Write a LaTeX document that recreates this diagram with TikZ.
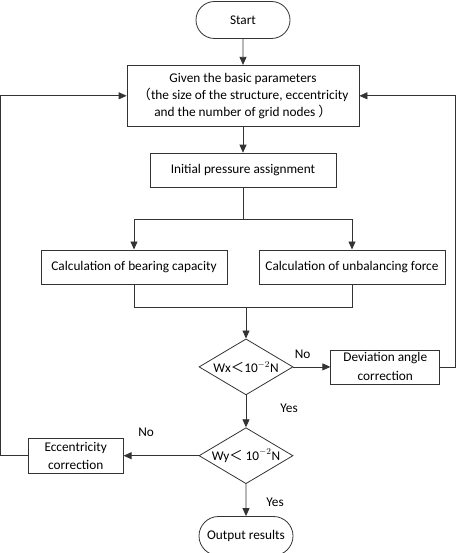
\documentclass[tikz,border=0pt]{standalone}
\usepackage{fontspec}
\setmainfont{Carlito}
\newfontfamily\cjk{Noto Sans CJK SC}
\usetikzlibrary{positioning, arrows.meta, calc, shapes.geometric, shapes.misc}
\tikzset{arr/.style={-{Triangle[length=8pt, width=7pt]}}}

\begin{document}
\begin{tikzpicture}[
      x=1pt, y=1pt,
      draw=black!80, line width=0.8pt,
      node distance=26pt,
      every node/.style={align=center, font=\fontsize{13.3}{17}\selectfont, inner sep=0pt},
      process/.style={draw, rectangle, minimum width=186pt, minimum height=34pt},
      terminal/.style={draw, rounded rectangle, minimum width=94pt, minimum height=37pt},
      decision/.style={draw, diamond, aspect=1.7, minimum width=94pt, minimum height=56pt},
      answer/.style={draw=none, inner sep=1pt},
  ]
      \useasboundingbox (0,0) rectangle (456,-553);

      % Main column: start, parameters, initial pressure
      \node[terminal] (start) at (243,-20) {Start};
      \node[process, minimum width=232pt, minimum height=61pt, below=26pt of start] (given)
          {Given the basic parameters\\{\cjk （}the size of the structure, eccentricity\\and the number of grid nodes {\cjk ）}};
      \node[process, below=26pt of given] (init) {Initial pressure assignment};

      % Two calculations side by side
      \node[process, below=62pt of init, xshift=-109pt] (bear) {Calculation of bearing capacity};
      \node[process, below=62pt of init, xshift=109pt] (unbal) {Calculation of unbalancing force};

      % Checks and corrections
      \node[decision, below=151pt of init, xshift=3pt] (wx) {Wx{\cjk ＜}10$^{-2}$N};
      \node[process, minimum width=109pt, right=37pt of wx] (dev) {Deviation angle\\[2pt]correction};
      \node[decision, below=32pt of wx] (wy) {Wy{\cjk ＜} 10$^{-2}$N};
      \node[process, minimum width=95pt, minimum height=35pt, left=75pt of wy] (ecc) {Eccentricity\\[1pt]correction};
      \node[terminal, minimum height=39pt, below=32pt of wy] (out) {Output results};

      % Split and merge points
      \coordinate (split) at ($(init.south)+(0,-32)$);
      \coordinate (merge) at ($(wx.north)+(0,31)$);

      % Forward flow
      \draw[arr] (start) -- (given);
      \draw[arr] (given) -- (init);
      \draw (init) -- (split);
      \draw[arr] (split) -| (bear);
      \draw[arr] (split) -| (unbal);
      \draw (bear.south) |- (merge) -| (unbal.south);
      \draw[arr] (merge) -- (wx);
      \draw[arr] (wx) -- node[answer, pos=0.25, above=7pt] {No} (dev);
      \draw[arr] (wx) -- node[answer, pos=0.4, right=33pt] {Yes} (wy);
      \draw[arr] (wy) -- node[answer, pos=0.7, above=18pt] {No} (ecc);
      \draw[arr] (wy) -- node[answer, pos=0.56, right=19pt] {Yes} (out);

      % Feedback loops back to the parameters
      \draw[arr] (dev.east) -- ++(15.5,0) |- (given.east);
      \draw[arr] (ecc.west) -- ++(-27,0) |- (given.west);

\end{tikzpicture}
\end{document}
